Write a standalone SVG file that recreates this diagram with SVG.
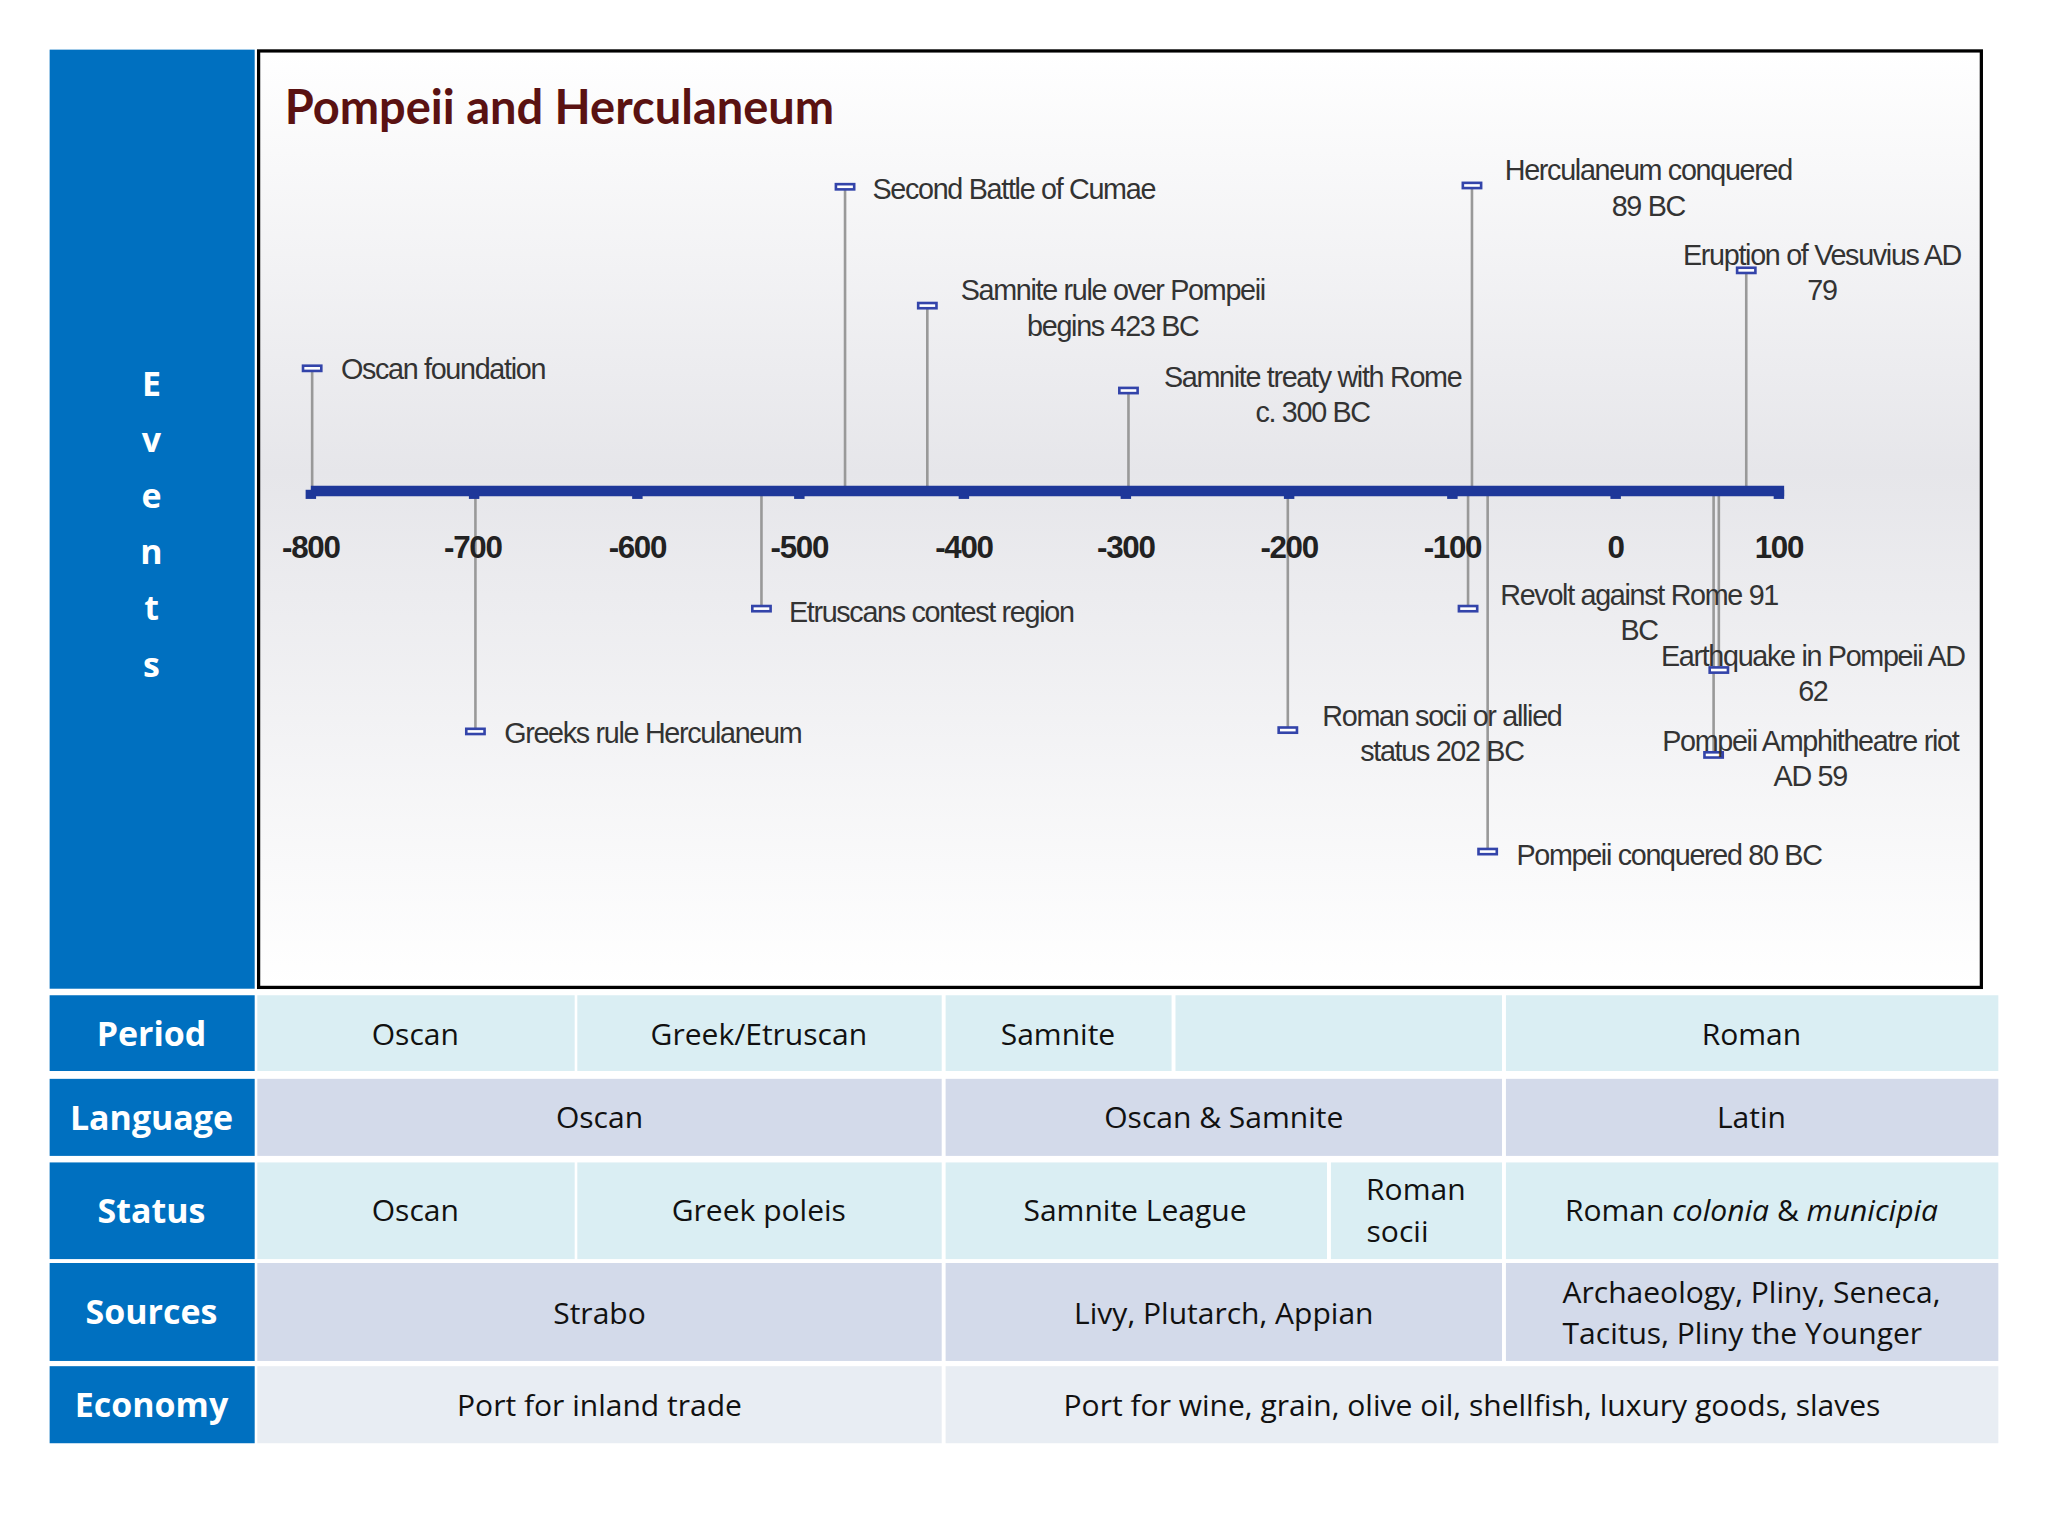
<svg xmlns="http://www.w3.org/2000/svg" width="2048" height="1536" viewBox="0 0 2048 1536">
<style>
.hd{fill:#0070C0}
.hl{fill:#fff;font:bold 26px "Open Sans","Liberation Sans",sans-serif;text-anchor:middle}
.c1{fill:#DAEEF3}.c2{fill:#D3DAEA}.c3{fill:#E8EDF3}
.ct{fill:#111;font:23px "Open Sans","Liberation Sans",sans-serif;text-anchor:middle}
.ev{fill:#333;font:22px "Liberation Sans",sans-serif;letter-spacing:-1px}
.tk{fill:#222;font:bold 24px "Liberation Sans",sans-serif;text-anchor:middle;letter-spacing:-1px}
.st{stroke:#999;stroke-width:2}
.mk{fill:#fff;stroke:#3344AA;stroke-width:2}
</style>
<defs><linearGradient id="bg" x1="0" y1="0" x2="0" y2="1"><stop offset="0" stop-color="#fff"/><stop offset="0.45" stop-color="#e6e6ea"/><stop offset="1" stop-color="#fff"/></linearGradient></defs>
<rect width="2048" height="1536" fill="#fff"/>
<g transform="scale(1.3061)">
<g id="headers">
<rect class="hd" x="38" y="38" width="157" height="719"/>
<g class="hl"><text x="116" y="303">E</text><text x="116" y="346">v</text><text x="116" y="389">e</text><text x="116" y="432">n</text><text x="116" y="475">t</text><text x="116" y="518">s</text></g>
<rect class="hd" x="38" y="762" width="157" height="58"/><text class="hl" x="116" y="801">Period</text>
<rect class="hd" x="38" y="826" width="157" height="59"/><text class="hl" x="116" y="865">Language</text>
<rect class="hd" x="38" y="890" width="157" height="74"/><text class="hl" x="116" y="936">Status</text>
<rect class="hd" x="38" y="967" width="157" height="75"/><text class="hl" x="116" y="1014">Sources</text>
<rect class="hd" x="38" y="1046" width="157" height="59"/><text class="hl" x="116" y="1085">Economy</text>
</g>
<g id="table">
<rect class="c1" x="197" y="762" width="243" height="58"/><text class="ct" x="318" y="800">Oscan</text>
<rect class="c1" x="442" y="762" width="279" height="58"/><text class="ct" x="581" y="800">Greek/Etruscan</text>
<rect class="c1" x="724" y="762" width="173" height="58"/><text class="ct" x="810" y="800">Samnite</text>
<rect class="c1" x="900" y="762" width="250" height="58"/>
<rect class="c1" x="1153" y="762" width="377" height="58"/><text class="ct" x="1341" y="800">Roman</text>
<rect class="c2" x="197" y="826" width="524" height="59"/><text class="ct" x="459" y="864">Oscan</text>
<rect class="c2" x="724" y="826" width="426" height="59"/><text class="ct" x="937" y="864">Oscan &amp; Samnite</text>
<rect class="c2" x="1153" y="826" width="377" height="59"/><text class="ct" x="1341" y="864">Latin</text>
<rect class="c1" x="197" y="890" width="243" height="74"/><text class="ct" x="318" y="935">Oscan</text>
<rect class="c1" x="442" y="890" width="279" height="74"/><text class="ct" x="581" y="935">Greek poleis</text>
<rect class="c1" x="724" y="890" width="292" height="74"/><text class="ct" x="869" y="935">Samnite League</text>
<rect class="c1" x="1019" y="890" width="131" height="74"/><text class="ct" x="1084" y="919">Roman</text><text class="ct" x="1070" y="951" font-style="italic">socii</text>
<rect class="c1" x="1153" y="890" width="377" height="74"/><text class="ct" x="1341" y="935">Roman <tspan font-style="italic">colonia</tspan> &amp; <tspan font-style="italic">municipia</tspan></text>
<rect class="c2" x="197" y="967" width="524" height="75"/><text class="ct" x="459" y="1014">Strabo</text>
<rect class="c2" x="724" y="967" width="426" height="75"/><text class="ct" x="937" y="1014">Livy, Plutarch, Appian</text>
<rect class="c2" x="1153" y="967" width="377" height="75"/><text class="ct" x="1341" y="998">Archaeology, Pliny, Seneca,</text><text class="ct" x="1334" y="1029">Tacitus, Pliny the Younger</text>
<rect class="c3" x="197" y="1046" width="524" height="59"/><text class="ct" x="459" y="1084">Port for inland trade</text>
<rect class="c3" x="724" y="1046" width="806" height="59"/><text class="ct" x="1127" y="1084">Port for wine, grain, olive oil, shellfish, luxury goods, slaves</text>
</g>
<g id="chart">
<rect x="198" y="39" width="1319" height="717" fill="url(#bg)" stroke="#000" stroke-width="2.5"/>
<text x="218" y="95" fill="#5A1212" font-family="Lato,'Liberation Sans',sans-serif" font-weight="bold" font-size="36">Pompeii and Herculaneum</text>
</g>
<g id="connectors">
<g class="st">
<line x1="239" y1="376" x2="239" y2="282"/><line x1="647" y1="376" x2="647" y2="143"/><line x1="710" y1="376" x2="710" y2="234"/><line x1="864" y1="376" x2="864" y2="299"/><line x1="1127" y1="376" x2="1127" y2="142"/><line x1="1337" y1="376" x2="1337" y2="207"/>
<line x1="364" y1="376" x2="364" y2="560"/><line x1="583" y1="376" x2="583" y2="466"/><line x1="986" y1="376" x2="986" y2="559"/><line x1="1124" y1="376" x2="1124" y2="466"/><line x1="1316" y1="376" x2="1316" y2="513"/><line x1="1312" y1="376" x2="1312" y2="578"/><line x1="1139" y1="376" x2="1139" y2="652"/>
</g>
<line x1="238" y1="376" x2="1366" y2="376" stroke="#1E3799" stroke-width="8"/>
<g fill="#1E3799"><rect x="234" y="375" width="8" height="7"/><rect x="359" y="375" width="8" height="7"/><rect x="484" y="375" width="8" height="7"/><rect x="608" y="375" width="8" height="7"/><rect x="734" y="375" width="8" height="7"/><rect x="858" y="375" width="8" height="7"/><rect x="983" y="375" width="8" height="7"/><rect x="1108" y="375" width="8" height="7"/><rect x="1233" y="375" width="8" height="7"/><rect x="1358" y="375" width="8" height="7"/></g>
</g>
<g id="markers">
<rect class="mk" x="232" y="280" width="14" height="4"/><rect class="mk" x="640" y="141" width="14" height="4"/><rect class="mk" x="703" y="232" width="14" height="4"/><rect class="mk" x="857" y="297" width="14" height="4"/><rect class="mk" x="1120" y="140" width="14" height="4"/><rect class="mk" x="1330" y="205" width="14" height="4"/>
<rect class="mk" x="357" y="558" width="14" height="4"/><rect class="mk" x="576" y="464" width="14" height="4"/><rect class="mk" x="979" y="557" width="14" height="4"/><rect class="mk" x="1117" y="464" width="14" height="4"/><rect class="mk" x="1309" y="511" width="14" height="4"/><rect class="mk" x="1305" y="576" width="14" height="4"/><rect class="mk" x="1132" y="650" width="14" height="4"/>
</g>
<g id="ticks" class="tk">
<text x="238" y="427">-800</text><text x="362" y="427">-700</text><text x="488" y="427">-600</text><text x="612" y="427">-500</text><text x="738" y="427">-400</text><text x="862" y="427">-300</text><text x="987" y="427">-200</text><text x="1112" y="427">-100</text><text x="1237" y="427">0</text><text x="1362" y="427">100</text>
</g>
<g id="labels" class="ev">
<text x="261" y="290">Oscan foundation</text>
<text x="668" y="152">Second Battle of Cumae</text>
<text x="852" y="230" text-anchor="middle">Samnite rule over Pompeii</text><text x="852" y="257" text-anchor="middle">begins 423 BC</text>
<text x="1005" y="296" text-anchor="middle">Samnite treaty with Rome</text><text x="1005" y="323" text-anchor="middle">c. 300 BC</text>
<text x="1262" y="138" text-anchor="middle">Herculaneum conquered</text><text x="1262" y="165" text-anchor="middle">89 BC</text>
<text x="1395" y="203" text-anchor="middle">Eruption of Vesuvius AD</text><text x="1395" y="230" text-anchor="middle">79</text>
<text x="386" y="569">Greeks rule Herculaneum</text>
<text x="604" y="476">Etruscans contest region</text>
<text x="1104" y="556" text-anchor="middle">Roman socii or allied</text><text x="1104" y="583" text-anchor="middle">status 202 BC</text>
<text x="1255" y="463" text-anchor="middle">Revolt against Rome 91</text><text x="1255" y="490" text-anchor="middle">BC</text>
<text x="1388" y="510" text-anchor="middle">Earthquake in Pompeii AD</text><text x="1388" y="537" text-anchor="middle">62</text>
<text x="1386" y="575" text-anchor="middle">Pompeii Amphitheatre riot</text><text x="1386" y="602" text-anchor="middle">AD 59</text>
<text x="1161" y="662">Pompeii conquered 80 BC</text>
</g>
</g>
</svg>
